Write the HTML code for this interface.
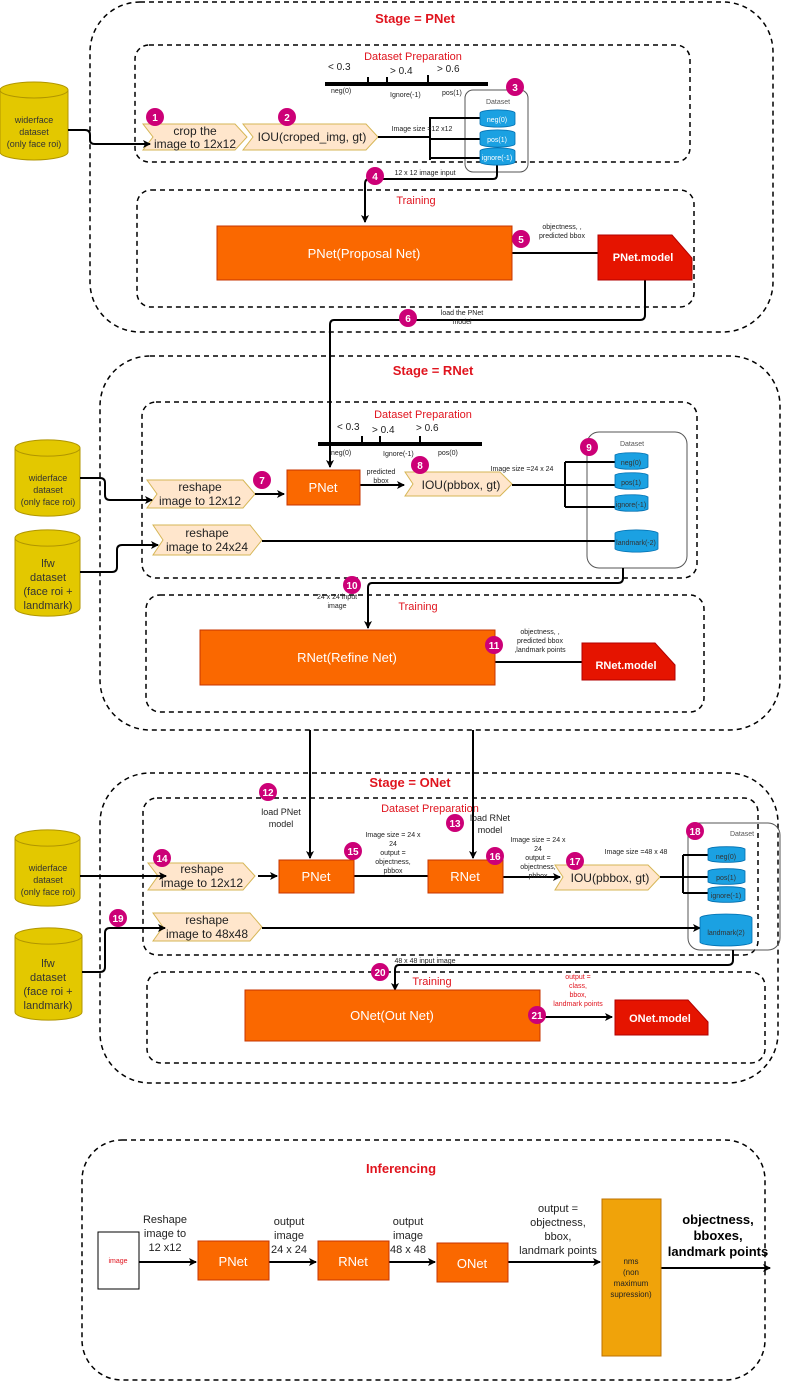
<!DOCTYPE html>
<html><head><meta charset="utf-8"><style>
html,body{margin:0;padding:0;background:#fff}
svg{display:block}
text{font-family:"Liberation Sans",sans-serif}
.r{fill:#e0141e}
.t7{font-size:7px}
.w{fill:#fff}
</style></head><body>
<svg width="792" height="1383" viewBox="0 0 792 1383" xmlns="http://www.w3.org/2000/svg">
<defs>
<marker id="a" markerWidth="8" markerHeight="8" refX="7" refY="4" orient="auto" markerUnits="userSpaceOnUse"><path d="M0,0 L8,4 L0,8 L2,4z" fill="#000"/></marker>
</defs>
<g fill="none" stroke="#000" stroke-width="1.5" stroke-dasharray="5,4">
<rect x="90" y="2" width="683" height="330" rx="50"/>
<rect x="135" y="45" width="555" height="117" rx="14"/>
<rect x="137" y="190" width="557" height="117" rx="14"/>
<rect x="100" y="356" width="680" height="374" rx="50"/>
<rect x="142" y="402" width="555" height="176" rx="14"/>
<rect x="146" y="595" width="558" height="117" rx="14"/>
<rect x="100" y="773" width="678" height="310" rx="50"/>
<rect x="143" y="798" width="615" height="157" rx="14"/>
<rect x="147" y="972" width="618" height="91" rx="14"/>
<rect x="82" y="1140" width="683" height="240" rx="40"/>
</g>
<g font-weight="bold" font-size="13" text-anchor="middle" class="r">
<text x="415" y="23" class="r">Stage = PNet</text>
<text x="433" y="375" class="r">Stage = RNet</text>
<text x="410" y="787" class="r">Stage = ONet</text>
<text x="401" y="1173" class="r">Inferencing</text>
</g>
<g font-size="11" text-anchor="middle" class="r">
<text x="413" y="60" class="r">Dataset Preparation</text>
<text x="416" y="204" class="r">Training</text>
<text x="423" y="418" class="r">Dataset Preparation</text>
<text x="418" y="610" class="r">Training</text>
<text x="430" y="812" class="r">Dataset Preparation</text>
<text x="432" y="985" class="r">Training</text>
</g>
<!-- cylinders yellow -->
<g fill="#e3c800" stroke="#b09500">
<path d="M0,90 a34,8 0 0 1 68,0 v62 a34,8 0 0 1 -68,0z"/><path d="M0,90 a34,8 0 0 0 68,0" fill="none"/>
<path d="M15,448 a32,8 0 0 1 65,0 v60 a32,8 0 0 1 -65,0z"/><path d="M15,448 a32,8 0 0 0 65,0" fill="none"/>
<path d="M15,538 a32,8 0 0 1 65,0 v70 a32,8 0 0 1 -65,0z"/><path d="M15,538 a32,8 0 0 0 65,0" fill="none"/>
<path d="M15,838 a32,8 0 0 1 65,0 v60 a32,8 0 0 1 -65,0z"/><path d="M15,838 a32,8 0 0 0 65,0" fill="none"/>
<path d="M15,936 a33,8 0 0 1 67,0 v76 a33,8 0 0 1 -67,0z"/><path d="M15,936 a33,8 0 0 0 67,0" fill="none"/>
</g>
<g font-size="9" text-anchor="middle" fill="#333">
<text x="34" y="123">widerface</text><text x="34" y="135">dataset</text><text x="34" y="147">(only face roi)</text>
<text x="48" y="481">widerface</text><text x="48" y="493">dataset</text><text x="48" y="505">(only face roi)</text>
<text x="48" y="871">widerface</text><text x="48" y="883">dataset</text><text x="48" y="895">(only face roi)</text>
</g>
<g font-size="11" text-anchor="middle" fill="#333">
<text x="48" y="567">lfw</text><text x="48" y="581">dataset</text><text x="48" y="595">(face roi +</text><text x="48" y="609">landmark)</text>
<text x="48" y="967">lfw</text><text x="48" y="981">dataset</text><text x="48" y="995">(face roi +</text><text x="48" y="1009">landmark)</text>
</g>
<!-- chevrons -->
<g fill="#ffe6cc" stroke="#d6b656">
<path d="M143,124 H235 L247,137 L235,150 H143 L153,137z"/>
<path d="M243,124 H366 L378,137 L366,150 H243 L253,137z"/>
<path d="M147,480 H243 L255,494 L243,508 H147 L157,494z"/>
<path d="M153,525 H250 L262,540 L250,555 H153 L163,540z"/>
<path d="M405,472 H500 L512,484 L500,496 H405 L413,484z"/>
<path d="M148,863 H243 L255,876 L243,890 H148 L158,876z"/>
<path d="M153,913 H250 L262,927 L250,941 H153 L163,927z"/>
<path d="M555,865 H648 L660,877 L648,890 H555 L563,877z"/>
</g>
<g font-size="12" text-anchor="middle" fill="#222">
<text x="195" y="135">crop the</text><text x="195" y="148">image to 12x12</text>
<text x="312" y="141">IOU(croped_img, gt)</text>
<text x="200" y="491">reshape</text><text x="200" y="505">image to 12x12</text>
<text x="207" y="537">reshape</text><text x="207" y="551">image to 24x24</text>
<text x="461" y="489">IOU(pbbox, gt)</text>
<text x="202" y="873">reshape</text><text x="202" y="887">image to 12x12</text>
<text x="207" y="924">reshape</text><text x="207" y="938">image to 48x48</text>
<text x="610" y="882">IOU(pbbox, gt)</text>
</g>
<!-- scale bars -->
<g stroke="#000">
<line x1="325" y1="84" x2="488" y2="84" stroke-width="4"/>
<line x1="368" y1="84" x2="368" y2="77" stroke-width="2"/><line x1="387" y1="84" x2="387" y2="77" stroke-width="2"/><line x1="428" y1="84" x2="428" y2="75" stroke-width="2"/>
<line x1="318" y1="444" x2="482" y2="444" stroke-width="4"/>
<line x1="362" y1="444" x2="362" y2="436" stroke-width="2"/><line x1="380" y1="444" x2="380" y2="436" stroke-width="2"/><line x1="420" y1="444" x2="420" y2="436" stroke-width="2"/>
</g>
<g font-size="10" fill="#222">
<text x="328" y="70">&lt; 0.3</text><text x="390" y="74">&gt; 0.4</text><text x="437" y="72">&gt; 0.6</text>
<text x="337" y="430">&lt; 0.3</text><text x="372" y="433">&gt; 0.4</text><text x="416" y="431">&gt; 0.6</text>
</g>
<g class="t7" fill="#222">
<text x="331" y="93">neg(0)</text><text x="390" y="97">Ignore(-1)</text><text x="442" y="95">pos(1)</text>
<text x="331" y="455">neg(0)</text><text x="383" y="456">Ignore(-1)</text><text x="438" y="455">pos(0)</text>
</g>
<!-- dataset boxes -->
<g fill="none" stroke="#555">
<rect x="465" y="90" width="63" height="82" rx="8"/>
<rect x="587" y="432" width="100" height="136" rx="12"/>
<rect x="688" y="823" width="92" height="127" rx="12"/>
</g>
<g font-size="7" fill="#555" text-anchor="middle">
<text x="498" y="104">Dataset</text><text x="632" y="446">Dataset</text><text x="742" y="836">Dataset</text>
</g>
<!-- connectors -->
<g fill="none" stroke="#000" stroke-width="2">
<path d="M68,130 H85 Q90,130 90,135 V140 Q90,144 95,144 H150" marker-end="url(#a)"/>
<path d="M378,137 H430 M430,117 V160 M430,118 H480 M430,139 H480 M430,158 H480"/>
<path d="M497,164 V175 Q497,179 493,179 H369 Q365,179 365,184 V222" marker-end="url(#a)"/>
<path d="M512,253 H598"/>
<path d="M645,280 V315 Q645,320 640,320 H334 Q330,320 330,325 V467" marker-end="url(#a)"/>
<path d="M80,478 H100 Q105,478 105,483 V495 Q105,500 110,500 H152" marker-end="url(#a)"/>
<path d="M255,494 H284" marker-end="url(#a)"/>
<path d="M360,485 H404" marker-end="url(#a)"/>
<path d="M512,485 H565 M565,462 V507 M565,462 H615 M565,485 H615 M565,507 H615"/>
<path d="M80,572 H112 Q117,572 117,567 V550 Q117,545 122,545 H158" marker-end="url(#a)"/>
<path d="M262,541 H615"/>
<path d="M623,568 V578 Q623,583 618,583 H372 Q368,583 368,588 V628" marker-end="url(#a)"/>
<path d="M495,662 H582"/>
<path d="M310,730 V858" marker-end="url(#a)"/>
<path d="M473,730 V858" marker-end="url(#a)"/>
<path d="M80,876 H166" marker-end="url(#a)"/>
<path d="M258,876 H277" marker-end="url(#a)"/>
<path d="M354,876 H428"/>
<path d="M503,877 H560" marker-end="url(#a)"/>
<path d="M660,877 H683 M683,855 V893 M683,855 H710 M683,877 H710 M683,893 H710"/>
<path d="M82,972 H100 Q105,972 105,967 V933 Q105,928 110,928 H165" marker-end="url(#a)"/>
<path d="M262,928 H700" marker-end="url(#a)"/>
<path d="M733,950 V960 Q733,965 728,965 H399 Q395,965 395,970 V990" marker-end="url(#a)"/>
<path d="M540,1017 H612" marker-end="url(#a)"/>
<path d="M139,1262 H196" marker-end="url(#a)"/>
<path d="M269,1262 H316" marker-end="url(#a)"/>
<path d="M389,1262 H435" marker-end="url(#a)"/>
<path d="M508,1262 H600" marker-end="url(#a)"/>
<path d="M661,1268 H770" marker-end="url(#a)"/>
</g>
<!-- blue cylinders -->
<g fill="#1ba1e2" stroke="#006eaf" stroke-width="0.8">
<path d="M480,113 a17,3 0 0 1 35,0 v11 a17,3 0 0 1 -35,0z"/>
<path d="M480,133 a17,3 0 0 1 35,0 v11 a17,3 0 0 1 -35,0z"/>
<path d="M480,151 a17,3 0 0 1 35,0 v11 a17,3 0 0 1 -35,0z"/>
<path d="M615,455 a17,3 0 0 1 33,0 v12 a17,3 0 0 1 -33,0z"/>
<path d="M615,475 a17,3 0 0 1 33,0 v12 a17,3 0 0 1 -33,0z"/>
<path d="M615,497 a17,3 0 0 1 33,0 v12 a17,3 0 0 1 -33,0z"/>
<path d="M615,533 a22,4 0 0 1 43,0 v16 a22,4 0 0 1 -43,0z"/>
<path d="M708,849 a19,3 0 0 1 37,0 v11 a19,3 0 0 1 -37,0z"/>
<path d="M708,871 a19,3 0 0 1 37,0 v11 a19,3 0 0 1 -37,0z"/>
<path d="M708,889 a19,3 0 0 1 37,0 v11 a19,3 0 0 1 -37,0z"/>
<path d="M700,918 a26,4 0 0 1 52,0 v24 a26,4 0 0 1 -52,0z"/>
</g>
<g class="t7" text-anchor="middle" fill="#fff">
<text x="497" y="122">neg(0)</text><text x="497" y="142">pos(1)</text><text x="497" y="160">ignore(-1)</text>
</g>
<g class="t7" text-anchor="middle" fill="#333">
<text x="631" y="465">neg(0)</text><text x="631" y="485">pos(1)</text><text x="631" y="507">ignore(-1)</text><text x="636" y="545">landmark(-2)</text>
<text x="726" y="859">neg(0)</text><text x="726" y="880">pos(1)</text><text x="726" y="898">ignore(-1)</text><text x="726" y="935">landmark(2)</text>
</g>
<!-- orange boxes -->
<g fill="#fa6800" stroke="#c73500">
<rect x="217" y="226" width="295" height="54"/>
<rect x="287" y="470" width="73" height="35"/>
<rect x="200" y="630" width="295" height="55"/>
<rect x="279" y="860" width="75" height="33"/>
<rect x="428" y="860" width="75" height="33"/>
<rect x="245" y="990" width="295" height="51"/>
<rect x="198" y="1241" width="71" height="39"/>
<rect x="318" y="1241" width="71" height="39"/>
<rect x="437" y="1243" width="71" height="39"/>
</g>
<rect x="602" y="1199" width="59" height="157" fill="#f0a30a" stroke="#bd7000"/>
<rect x="98" y="1232" width="41" height="57" fill="#fff" stroke="#000"/>
<g font-size="13" text-anchor="middle" fill="#fff">
<text x="364" y="258">PNet(Proposal Net)</text>
<text x="323" y="492">PNet</text>
<text x="347" y="662">RNet(Refine Net)</text>
<text x="316" y="881">PNet</text>
<text x="465" y="881">RNet</text>
<text x="392" y="1020">ONet(Out Net)</text>
<text x="233" y="1266">PNet</text>
<text x="353" y="1266">RNet</text>
<text x="472" y="1268">ONet</text>
</g>
<!-- model docs -->
<g fill="#e51400" stroke="#b20000">
<path d="M598,235 H672 L692,258 V280 H598z"/>
<path d="M582,643 H655 L675,665 V680 H582z"/>
<path d="M615,1000 H688 L708,1022 V1035 H615z"/>
</g>
<g font-size="11" font-weight="bold" fill="#fff" text-anchor="middle">
<text x="643" y="261">PNet.model</text><text x="626" y="669">RNet.model</text><text x="660" y="1022">ONet.model</text>
</g>
<!-- small labels -->
<g class="t7" fill="#222" text-anchor="middle">
<text x="422" y="131">Image size =12 x12</text>
<text x="425" y="175">12 x 12 image input</text>
<text x="562" y="229">objectness, ,</text><text x="562" y="238">predicted bbox</text>
<text x="462" y="315">load the PNet</text><text x="462" y="324">model</text>
<text x="381" y="474">predicted</text><text x="381" y="483">bbox</text>
<text x="522" y="471">Image size =24 x 24</text>
<text x="337" y="599">24 x 24 input</text><text x="337" y="608">image</text>
<text x="540" y="634">objectness, ,</text><text x="540" y="643">predicted bbox</text><text x="540" y="652">,landmark points</text>
<text x="393" y="837">Image size = 24 x</text><text x="393" y="846">24</text><text x="393" y="855">output =</text><text x="393" y="864">objectness,</text><text x="393" y="873">pbbox</text>
<text x="538" y="842">Image size = 24 x</text><text x="538" y="851">24</text><text x="538" y="860">output =</text><text x="538" y="869">objectness,</text><text x="538" y="878">pbbox</text>
<text x="636" y="854">Image size =48 x 48</text>
<text x="425" y="963">48 x 48 input image</text>
</g>
<g font-size="9" fill="#222" text-anchor="middle">
<text x="281" y="815">load PNet</text><text x="281" y="827">model</text>
<text x="490" y="821">load RNet</text><text x="490" y="833">model</text>
</g>
<g class="t7" fill="#e0141e" text-anchor="middle">
<text x="578" y="979">output =</text><text x="578" y="988">class,</text><text x="578" y="997">bbox,</text><text x="578" y="1006">landmark points</text>
</g>
<text x="118" y="1263" font-size="7" fill="#e0141e" text-anchor="middle">image</text>
<g font-size="11" fill="#222" text-anchor="middle">
<text x="165" y="1223">Reshape</text><text x="165" y="1237">image to</text><text x="165" y="1251">12 x12</text>
<text x="289" y="1225">output</text><text x="289" y="1239">image</text><text x="289" y="1253">24 x 24</text>
<text x="408" y="1225">output</text><text x="408" y="1239">image</text><text x="408" y="1253">48 x 48</text>
<text x="558" y="1212">output =</text><text x="558" y="1226">objectness,</text><text x="558" y="1240">bbox,</text><text x="558" y="1254">landmark points</text>
</g>
<g font-size="8" fill="#222" text-anchor="middle">
<text x="631" y="1264">nms</text><text x="631" y="1275">(non</text><text x="631" y="1286">maximum</text><text x="631" y="1297">supression)</text>
</g>
<g font-size="13" font-weight="bold" fill="#000" text-anchor="middle">
<text x="718" y="1224">objectness,</text><text x="718" y="1240">bboxes,</text><text x="718" y="1256">landmark points</text>
</g>
<!-- badges -->
<g fill="#cc0077">
<circle cx="155" cy="117" r="9"/><circle cx="287" cy="117" r="9"/><circle cx="515" cy="87" r="9"/>
<circle cx="375" cy="176" r="9"/><circle cx="521" cy="239" r="9"/><circle cx="408" cy="318" r="9"/>
<circle cx="262" cy="480" r="9"/><circle cx="420" cy="465" r="9"/><circle cx="589" cy="447" r="9"/>
<circle cx="352" cy="585" r="9"/><circle cx="494" cy="645" r="9"/>
<circle cx="268" cy="792" r="9"/><circle cx="455" cy="823" r="9"/><circle cx="162" cy="858" r="9"/>
<circle cx="353" cy="851" r="9"/><circle cx="495" cy="856" r="9"/><circle cx="575" cy="861" r="9"/>
<circle cx="695" cy="831" r="9"/><circle cx="118" cy="918" r="9"/><circle cx="380" cy="972" r="9"/>
<circle cx="537" cy="1015" r="9"/>
</g>
<g font-size="10" font-weight="bold" fill="#fff" text-anchor="middle">
<text x="155" y="121">1</text><text x="287" y="121">2</text><text x="515" y="91">3</text>
<text x="375" y="180">4</text><text x="521" y="243">5</text><text x="408" y="322">6</text>
<text x="262" y="484">7</text><text x="420" y="469">8</text><text x="589" y="451">9</text>
<text x="352" y="589">10</text><text x="494" y="649">11</text>
<text x="268" y="796">12</text><text x="455" y="827">13</text><text x="162" y="862">14</text>
<text x="353" y="855">15</text><text x="495" y="860">16</text><text x="575" y="865">17</text>
<text x="695" y="835">18</text><text x="118" y="922">19</text><text x="380" y="976">20</text>
<text x="537" y="1019">21</text>
</g>
</svg>
</body></html>
